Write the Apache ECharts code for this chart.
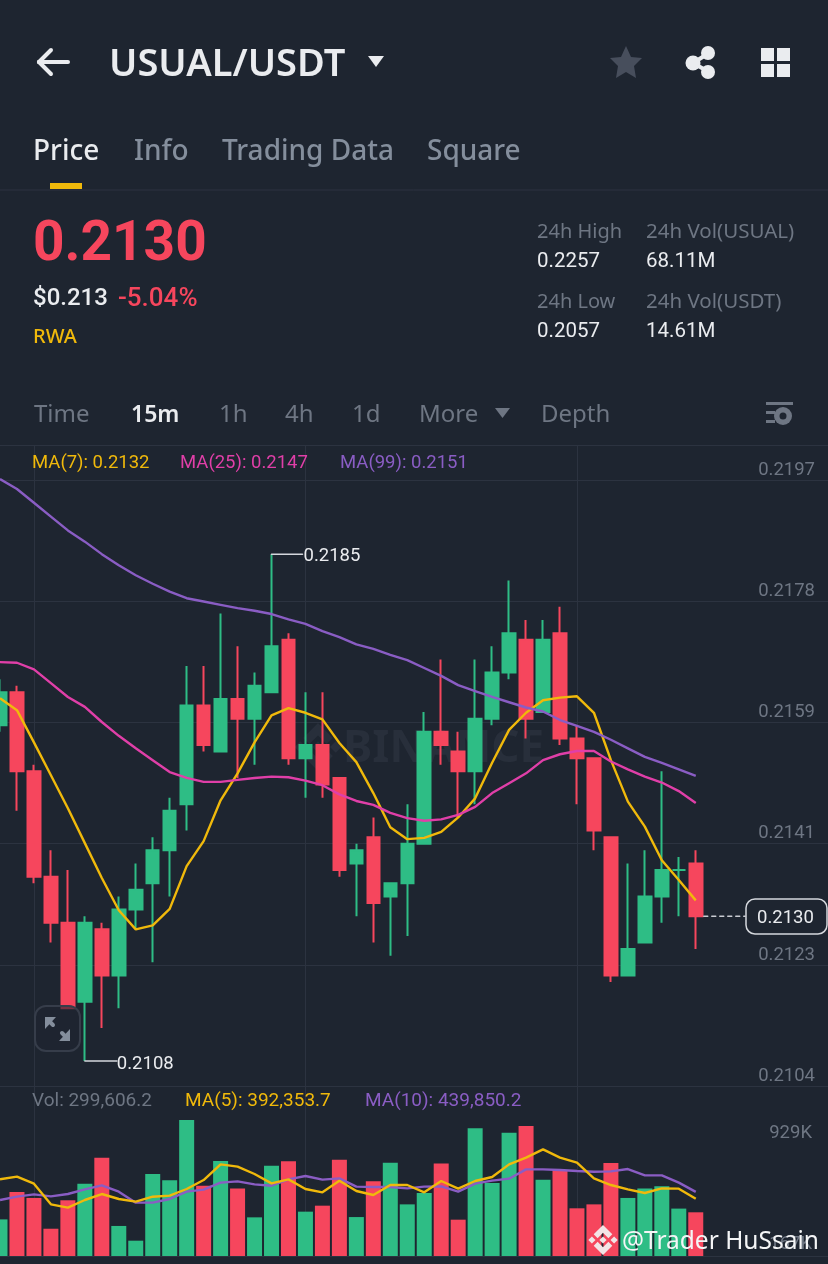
<!DOCTYPE html>
<html>
<head>
<meta charset="utf-8">
<style>
  html, body { margin: 0; padding: 0; background: #1e2530; }
  #main { width: 828px; height: 1264px; }
</style>
<script src="https://cdn.jsdelivr.net/npm/echarts@6/dist/echarts.min.js"></script>
</head>
<body>
<div id="main"></div>
<script>
// one entry per candle
const opens  = [.2159,.2164,.2152,.2136,.2129,.2117,.2128,.2121,.2131,.2135,.2140,.2147,.2162,.2155,.2163,.2160,.2164,.2172,.2154,.2156,.2151,.2138,.2142,.2133,.2135,.2141,.2158,.2155,.2152,.2160,.2167,.2172,.2161,.2173,.2157,.2154,.2142,.2121,.2126,.2133,.2137,.2138];
const closes = [.2164,.2152,.2136,.2129,.2116,.2129,.2121,.2131,.2134,.2140,.2146,.2162,.2156,.2163,.2160,.2165,.2171,.2154,.2156,.2150,.2137,.2140,.2132,.2135,.2141,.2158,.2156,.2152,.2160,.2167,.2173,.2160,.2172,.2157,.2154,.2143,.2121,.2125,.2133,.2137,.2137,.2130];
const lows   = [.2158,.2146,.2135,.2126,.2116,.2108,.2113,.2116,.2128,.2123,.2133,.2143,.2155,.2155,.2151,.2153,.2164,.2153,.2148,.2148,.2136,.2130,.2126,.2124,.2127,.2141,.2153,.2145,.2147,.2159,.2166,.2157,.2161,.2156,.2147,.2140,.2120,.2121,.2126,.2129,.2130,.2125];
const highs  = [.2166,.2165,.2153,.2140,.2137,.2130,.2129,.2133,.2138,.2142,.2148,.2168,.2168,.2176,.2171,.2167,.2185,.2173,.2164,.2164,.2151,.2141,.2145,.2135,.2147,.2161,.2169,.2158,.2169,.2171,.2181,.2175,.2175,.2177,.2159,.2154,.2142,.2138,.2140,.2152,.2139,.2140];

const ma7  = [.21631,.21613,.21564,.21514,.21464,.21411,.21358,.21309,.21280,.21286,.21311,.21376,.21414,.21476,.21517,.21564,.21605,.21616,.21609,.21599,.21563,.21534,.21487,.21435,.21417,.21419,.21428,.21450,.21479,.21533,.21583,.21609,.21628,.21632,.21634,.21609,.21537,.21474,.21436,.21385,.21355,.21324];
const ma25 = [.21686,.21685,.21675,.21654,.21633,.21618,.21595,.21574,.21555,.21537,.21519,.21510,.21504,.21504,.21507,.21510,.21512,.21511,.21506,.21499,.21485,.21475,.21469,.21457,.21449,.21445,.21447,.21454,.21466,.21487,.21502,.21517,.21537,.21546,.21551,.21551,.21535,.21523,.21512,.21503,.21490,.21472];
const ma99 = [.21964,.21949,.21928,.21907,.21886,.21869,.21850,.21833,.21818,.21805,.21793,.21783,.21778,.21773,.21768,.21764,.21759,.21751,.21744,.21733,.21724,.21713,.21706,.21697,.21689,.21677,.21665,.21651,.21642,.21633,.21625,.21617,.21611,.21598,.21589,.21580,.21568,.21555,.21542,.21533,.21523,.21513];

// volumes in thousands
const volumes = [251,439,398,187,382,496,674,206,105,562,519,932,482,651,462,265,619,649,304,345,660,267,512,640,354,432,635,249,875,500,845,891,523,590,327,354,638,398,462,478,325,299.6];
const volMa5  = [525.6,543.8,495.8,354.2,331.3,383.9,425,390.7,372.5,406.7,413.6,459.3,521,628.4,612.4,562.1,498.1,525.6,459.3,436.4,516.4,445.6,418.2,486.7,486.7,436.4,514.1,461.6,514.1,541.5,628.4,674.1,731.2,674.1,639.8,532.4,486.7,457,431.9,463.9,461.6,392.4];
const volMa10 = [383.9,406.7,422.7,409,425,457,484.4,441,365.6,365.6,390.7,441,454.7,502.7,511.8,491.3,482.1,525.6,548.4,523.3,532.4,475.3,473,473,463.9,475.3,477.6,441,495.8,516.4,530.1,594.1,594.1,589.5,582.7,578.1,580.4,596.4,553,553,502.7,439.9];

// horizontal grid lines and what the app prints over them
const priceTicks  = [.21042,.21226,.21411,.21595,.21779,.21963];
const priceLabels = ['0.2104','0.2123','0.2141','0.2159','0.2178','0.2197'];
const priceMax = .220158;
const volTicks  = [167,929];
const volLabels = ['167K','929K'];
const volMax = 1165.5;

const categories = [];
for (let i = 0; i < 50; i++) categories.push(String(i)); // 42 candles + empty room on the right

const GREEN = '#2ebd85', RED = '#f6465d', YELLOW = '#f0b90b', PINK = '#e03fa8', PURPLE = '#8a5dc4';
const GREY = '#848e9c', AXIS_GREY = '#6e7683', WHITE = '#eaecef', GRID = '#2c3340', BG = '#1e2530';
const FONT = '"Noto Sans", sans-serif', NUM = 'Roboto, sans-serif';

const chart = echarts.init(document.getElementById('main'));

const xBase = {
  type: 'category',
  data: categories,
  axisLine: { show: false },
  axisTick: { show: false },
  axisLabel: { show: false },
  splitLine: {
    show: true,
    alignWithLabel: true,
    interval: (i) => (i - 2) % 16 === 0,
    lineStyle: { color: GRID, width: 1 }
  }
};

function maLine(name, data, color, xi) {
  return {
    name, type: 'line', data, xAxisIndex: xi, yAxisIndex: xi,
    showSymbol: false, symbol: 'none', smooth: false, z: 4,
    lineStyle: { color, width: 2.4 }
  };
}

chart.setOption({
  animation: false,
  backgroundColor: BG,
  grid: [
    { left: -8.49, right: -12, top: 445, height: 641, outerBoundsMode: 'none' },
    { left: -8.49, right: -12, top: 1086, height: 170, outerBoundsMode: 'none' }
  ],
  xAxis: [
    xBase,
    Object.assign({}, xBase, {
      gridIndex: 1,
      axisLine: { show: true, lineStyle: { color: GRID } }
    })
  ],
  yAxis: [
    {
      type: 'value', position: 'right', min: priceTicks[0], max: priceMax, scale: true,
      axisLine: { show: false },
      axisTick: { show: false, customValues: priceTicks.concat(priceMax) },
      splitLine: { show: true, lineStyle: { color: GRID, width: 1 } },
      axisLabel: {
        inside: true, margin: 25, align: 'right', verticalAlign: 'bottom',
        customValues: priceTicks,
        color: AXIS_GREY, fontSize: 18.5, fontFamily: NUM,
        formatter: (v) => priceLabels[priceTicks.indexOf(v)]
      }
    },
    {
      type: 'value', gridIndex: 1, position: 'right', min: 0, max: volMax,
      axisLine: { show: false },
      axisTick: { show: false },
      splitLine: { show: false },
      axisLabel: {
        inside: true, margin: 28, align: 'right', verticalAlign: 'top', padding: [3, 0, 0, 0],
        customValues: volTicks,
        color: AXIS_GREY, fontSize: 18.5, fontFamily: NUM,
        formatter: (v) => volLabels[volTicks.indexOf(v)]
      }
    }
  ],
  series: [
    {
      name: 'USUAL/USDT', type: 'candlestick', barWidth: 13, z: 3,
      data: opens.map((o, i) => [o, closes[i], lows[i], highs[i]]),
      itemStyle: {
        color: GREEN, color0: RED,
        borderColor: GREEN, borderColor0: RED, borderColorDoji: GREEN,
        borderWidth: 2
      }
    },
    maLine('MA(7)', ma7, YELLOW, 0),
    maLine('MA(25)', ma25, PINK, 0),
    maLine('MA(99)', ma99, PURPLE, 0),
    {
      name: 'Vol', type: 'bar', xAxisIndex: 1, yAxisIndex: 1, barWidth: 15, z: 3,
      data: volumes.map((v, i) => ({
        value: v,
        itemStyle: { color: closes[i] >= opens[i] ? GREEN : RED }
      }))
    },
    maLine('MA(10)', volMa10, PURPLE, 1),
    maLine('MA(5)', volMa5, YELLOW, 1)
  ]
});

// ---- app chrome, all drawn with the graphic component ----
function txt(x, y, text, size, color, weight, family, extra) {
  return Object.assign({
    type: 'text', x, y, z: 20,
    style: {
      text, fill: color, fontSize: size, fontWeight: weight || 'normal',
      fontFamily: family || FONT, verticalAlign: 'middle', align: 'left'
    }
  }, extra || {});
}
function poly(points, fill, z) {
  return { type: 'polygon', z: z || 20, shape: { points }, style: { fill } };
}
function line(x1, y1, x2, y2, stroke, width, dash) {
  return {
    type: 'line', z: 20, shape: { x1, y1, x2, y2 },
    style: { stroke, lineWidth: width || 1, lineDash: dash || null, lineCap: 'round' }
  };
}
function box(x, y, width, height, fill, r) {
  return { type: 'rect', z: 20, shape: { x, y, width, height, r: r || 0 }, style: { fill } };
}
function circle(cx, cy, r, fill) {
  return { type: 'circle', z: 20, shape: { cx, cy, r }, style: { fill } };
}
function logo(cx, cy, s, fill, z) {
  const d = (x, y, r) => poly([[cx + x * s, cy + (y - r) * s], [cx + (x + r) * s, cy + y * s], [cx + x * s, cy + (y + r) * s], [cx + (x - r) * s, cy + y * s]], fill, z);
  const chev = (k) => poly(
    [[0, -1], [0.62, -0.38], [0.36, -0.12], [0, -0.48], [-0.36, -0.12], [-0.62, -0.38]]
      .map((p) => [cx + p[0] * s, cy + k * p[1] * s]), fill, z);
  return [d(0, 0, 0.24), d(-0.74, 0, 0.24), d(0.74, 0, 0.24), chev(1), chev(-1)];
}

const highPt = chart.convertToPixel({ gridIndex: 0 }, [16, 0.2185]);
const lowPt  = chart.convertToPixel({ gridIndex: 0 }, [5, 0.2108]);
const lastPt = chart.convertToPixel({ gridIndex: 0 }, [41, 0.2130]);

const elements = [
  // faint watermark under the candles
  txt(343, 749, 'BINANCE', 44, '#282f3b', 'bold', FONT, { z: 1 }),
  ...logo(318, 747, 24, '#282f3b', 1),

  // top bar
  line(39, 62, 68, 62, WHITE, 4), line(39, 62, 51, 50, WHITE, 4), line(39, 62, 51, 74, WHITE, 4),
  txt(109, 65, 'USUAL/USDT', 38, WHITE, 600),
  poly([[368, 56], [384, 56], [376, 67]], WHITE),
  poly([[626, 46], [631, 57], [642, 58], [634, 66], [636, 78], [626, 72], [616, 78], [618, 66], [610, 58], [621, 57]], '#474e5c'),
  line(693, 63, 709, 53, WHITE, 4), line(693, 63, 709, 72, WHITE, 4),
  circle(693, 63, 7.5, WHITE), circle(708, 53, 7, WHITE), circle(708, 72, 7, WHITE),
  box(761, 48, 13, 13, WHITE), box(777, 48, 13, 13, WHITE), box(761, 64, 13, 13, WHITE), box(777, 64, 13, 13, WHITE),

  // tabs
  txt(33, 152, 'Price', 28, WHITE, 500),
  txt(134, 152, 'Info', 28, GREY, 500),
  txt(222, 152, 'Trading Data', 28, GREY, 500),
  txt(427, 152, 'Square', 28, GREY, 500),
  box(50, 183, 32, 6, YELLOW),
  line(0, 190, 828, 190, GRID, 1),

  // price block
  txt(33, 246, '0.2130', 55, RED, 'bold', NUM),
  txt(33, 299, '$0.213', 24, WHITE, 500, NUM),
  txt(118, 299, '-5.04%', 26, RED, 500, NUM),
  txt(33, 337, 'RWA', 20, YELLOW, 500),
  txt(537, 232, '24h High', 20, AXIS_GREY),
  txt(537, 262, '0.2257', 20.5, WHITE, 'normal', NUM),
  txt(537, 302, '24h Low', 20, AXIS_GREY),
  txt(537, 332, '0.2057', 20.5, WHITE, 'normal', NUM),
  txt(646, 232, '24h Vol(USUAL)', 20.5, AXIS_GREY),
  txt(646, 262, '68.11M', 20.5, WHITE, 'normal', NUM),
  txt(646, 302, '24h Vol(USDT)', 20.5, AXIS_GREY),
  txt(646, 332, '14.61M', 20.5, WHITE, 'normal', NUM),

  // intervals
  txt(34, 415, 'Time', 24, AXIS_GREY),
  txt(131, 415, '15m', 23, WHITE, 600),
  txt(219, 415, '1h', 24, AXIS_GREY),
  txt(285, 415, '4h', 24, AXIS_GREY),
  txt(352, 415, '1d', 24, AXIS_GREY),
  txt(419, 415, 'More', 24, AXIS_GREY),
  poly([[495, 408], [510, 408], [502.5, 418]], AXIS_GREY),
  txt(541, 415, 'Depth', 24, AXIS_GREY),
  box(766, 402, 27, 3, AXIS_GREY), box(766, 411, 9, 3, AXIS_GREY), box(766, 420, 9, 3, AXIS_GREY),
  circle(783, 416, 9, AXIS_GREY), circle(783, 416, 3.5, BG),

  // chart legends
  txt(32, 463, 'MA(7): 0.2132', 18.5, YELLOW, 'normal', NUM),
  txt(180, 463, 'MA(25): 0.2147', 18.5, PINK, 'normal', NUM),
  txt(340, 463, 'MA(99): 0.2151', 18.5, PURPLE, 'normal', NUM),
  txt(32, 1101, 'Vol: 299,606.2', 19, AXIS_GREY, 'normal', NUM),
  txt(185, 1101, 'MA(5): 392,353.7', 19, YELLOW, 'normal', NUM),
  txt(365, 1101, 'MA(10): 439,850.2', 19, PURPLE, 'normal', NUM),

  // high / low callouts
  line(highPt[0], highPt[1], highPt[0] + 31, highPt[1], '#d5d8dd', 1.5),
  txt(highPt[0] + 32, highPt[1] + 2, '0.2185', 18.5, WHITE, 'normal', NUM),
  line(lowPt[0], lowPt[1], lowPt[0] + 32, lowPt[1], '#d5d8dd', 1.5),
  txt(lowPt[0] + 32, lowPt[1] + 3, '0.2108', 18.5, WHITE, 'normal', NUM),

  // last price tag
  line(lastPt[0] + 8, lastPt[1], 745, lastPt[1], '#c9ccd2', 1.5, [4, 4]),
  {
    type: 'rect', z: 20, shape: { x: 746, y: 899, width: 81, height: 35, r: 9 },
    style: { fill: BG, stroke: '#d5d8dd', lineWidth: 1.5 }
  },
  txt(757, 918, '0.2130', 18.5, WHITE, 'normal', NUM),

  // expand button
  {
    type: 'rect', z: 20, shape: { x: 35, y: 1006, width: 45, height: 45, r: 11 },
    style: { fill: 'rgba(30,37,48,0.6)', stroke: '#363d4a', lineWidth: 2 }
  },
  poly([[45, 1017], [56, 1017], [45, 1029]], GREY),
  poly([[70, 1041], [59, 1041], [70, 1029]], GREY),
  line(48, 1020, 53, 1025, GREY, 4), line(67, 1038, 62, 1033, GREY, 4),

  // repost stamp over everything
  ...logo(603, 1240, 15, '#f2e4e6', 30),
  txt(622, 1242, '@Trader HuSsain', 24.5, '#f4f5f6', 'normal', FONT, { z: 30 })
];

chart.setOption({ graphic: { elements } });
</script>
</body>
</html>
